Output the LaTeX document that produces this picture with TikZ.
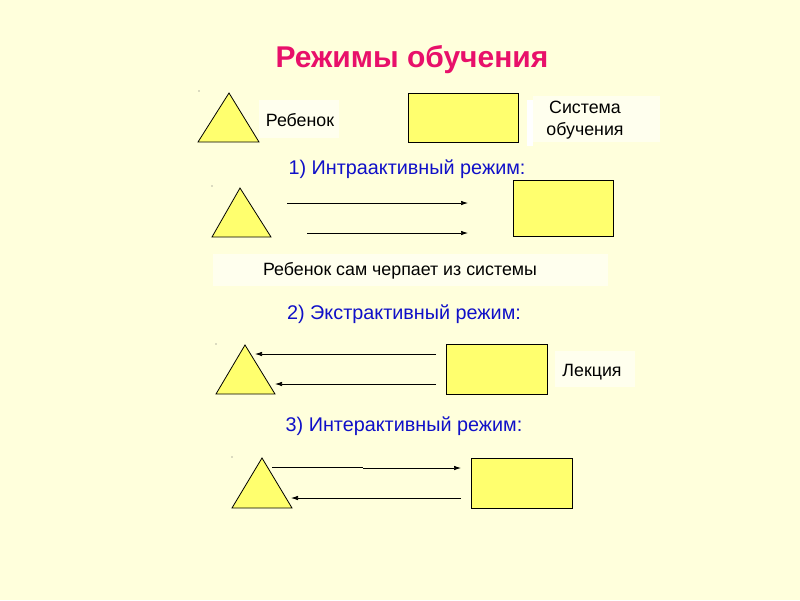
\documentclass[tikz,border=0pt]{standalone}
\usepackage{fontspec}
\setmainfont{Liberation Sans}
\usetikzlibrary{arrows.meta}
\definecolor{bg}{HTML}{FFFFDC}
\definecolor{shapefill}{HTML}{FFFF6E}
\definecolor{boxfill}{HTML}{FFFFEE}
\definecolor{titlecol}{HTML}{E8106A}
\definecolor{headcol}{HTML}{1010C8}
\tikzset{
  tri/.style={draw=black, fill=shapefill, line width=0.8pt, line join=miter},
  sysrect/.style={draw=black, fill=shapefill, line width=0.8pt},
  tbox/.style={fill=boxfill, draw=none},
  lbl/.style={font=\fontsize{17.8}{22}\selectfont, text=black, align=center},
  head/.style={font=\fontsize{19.8}{23}\selectfont, text=headcol},
  arr/.style={draw=black, line width=0.7pt, -{Latex[length=7pt,width=4.5pt]}},
  dot/.style={fill=black!60, circle, inner sep=0pt, minimum size=1.2pt}
}
\begin{document}
\begin{tikzpicture}[x=1pt,y=-1pt]
\useasboundingbox (0,0) rectangle (800,600);
\fill[bg] (0,0) rectangle (800,600);

% title
\node[font=\bfseries\fontsize{30}{34}\selectfont, text=titlecol] (title) at (412,60) {Режимы обучения};

% legend
\node[dot] (d0) at (199,91) {};
\draw[tri] (198,142) coordinate (t0a) -- (259,142) -- (229,93) -- cycle;
\node[tbox, minimum width=80pt, minimum height=38pt] (b0) at (299,119) {};
\node[lbl] (child) at (300,120) {Ребенок};
\node[sysrect, minimum width=110pt, minimum height=49pt, inner sep=0pt] (r0) at (463.5,117.5) {};
\fill[white] (527,100) rectangle (533,146);
\node[tbox, minimum width=127pt, minimum height=46pt] (b1) at (596,119) {};
\node[lbl] (sys) at (585,120) {Система\\обучения};

% section 1
\node[head] (h1) at (407,169) {1) Интраактивный режим:};
\node[dot] (d1) at (212,186) {};
\draw[tri] (212,237) -- (271,237) -- (240,188) -- cycle;
\node[sysrect, minimum width=100pt, minimum height=56pt, inner sep=0pt] (r1) at (563,208.5) {};
\coordinate (a1s) at (287,203);
\coordinate (a1e) at (468,203);
\coordinate (a2s) at (307,233);
\coordinate (a2e) at (468,233);
\draw[arr] (a1s) -- (a1e);
\draw[arr] (a2s) -- (a2e);
\node[tbox, minimum width=395pt, minimum height=32pt] (b2) at (410,269.5) {};
\node[lbl] (t1) at (400,271) {Ребенок сам черпает из системы};

% section 2
\node[head] (h2) at (404,314) {2) Экстрактивный режим:};
\node[dot] (d2) at (216,344) {};
\draw[tri] (216,394) -- (275,394) -- (245,345) -- cycle;
\node[sysrect, minimum width=101pt, minimum height=50pt, inner sep=0pt] (r2) at (496.5,369) {};
\coordinate (a3s) at (436,354);
\coordinate (a3e) at (255,354);
\coordinate (a4s) at (436,384);
\coordinate (a4e) at (275,384);
\draw[arr] (a3s) -- (a3e);
\draw[arr] (a4s) -- (a4e);
\node[tbox, minimum width=80pt, minimum height=36pt] (b3) at (595,369) {};
\node[lbl] (t2) at (592,372) {Лекция};

% section 3
\node[head] (h3) at (404,426) {3) Интерактивный режим:};
\node[dot] (d3) at (232,457) {};
\draw[tri] (232,508) -- (292,508) -- (262,458) -- cycle;
\node[sysrect, minimum width=101pt, minimum height=50pt, inner sep=0pt] (r3) at (521.5,483) {};
\coordinate (a5s) at (272,467);
\coordinate (a5m) at (363,467);
\coordinate (a5e) at (461,468);
\coordinate (a6s) at (461,498);
\coordinate (a6e) at (291,498);
\draw[line width=0.7pt] (a5s) -- (a5m);
\draw[arr] (a5m |- a5e) -- (a5e);
\draw[arr] (a6s) -- (a6e);
\end{tikzpicture}
\end{document}
